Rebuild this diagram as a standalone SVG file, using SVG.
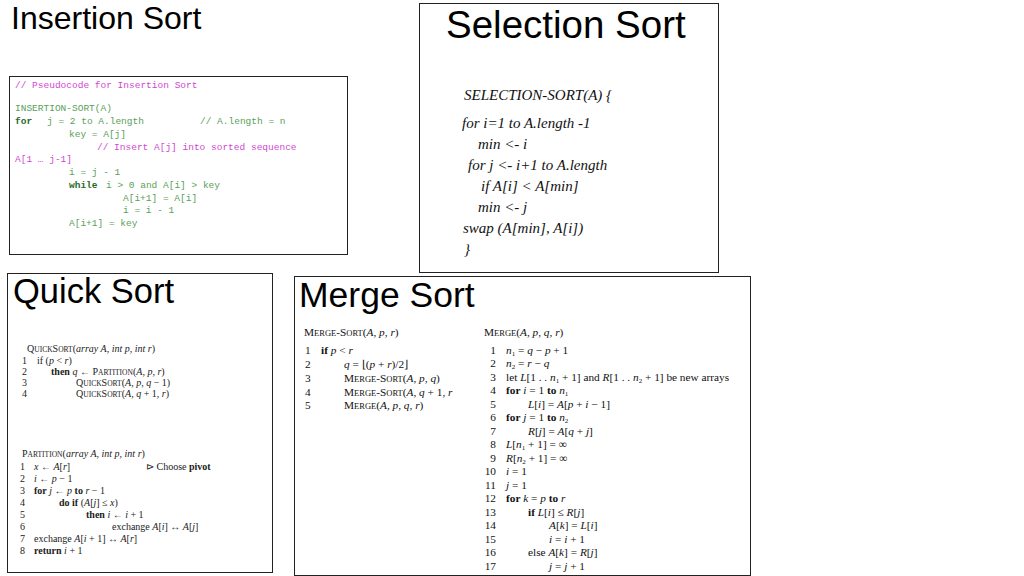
<svg xmlns="http://www.w3.org/2000/svg" width="1024" height="576" viewBox="0 0 1024 576" xml:space="preserve">
<style>
.box{fill:#fff;stroke:#222;stroke-width:1}
.title{font-family:"Liberation Sans",Arial,sans-serif;fill:#000}
.mono{font-family:"Liberation Mono","DejaVu Sans Mono",monospace;font-size:9.5px;white-space:pre}
.cm{fill:#d048d0}.cd{fill:#5aa05a}.kw{fill:#2a6a2a;font-weight:bold}
.sel{font-family:"Liberation Serif",serif;font-style:italic;font-size:15px;fill:#111}
.q{font-family:"Liberation Serif",serif;font-size:10px;fill:#222}
.m{font-family:"Liberation Serif",serif;font-size:11.3px;fill:#111}
.n{text-anchor:end}
.it{font-style:italic}
</style>
<rect width="1024" height="576" fill="#fff"/>
<g id="insertion">
<text class="title" x="11" y="29" font-size="32">Insertion Sort</text>
<rect class="box" x="9.5" y="76.5" width="338" height="178"/>
<g class="mono">
<text x="15" y="88" class="cm">//  Pseudocode for Insertion Sort</text>
<text x="15" y="111" class="cd">INSERTION-SORT(A)</text>
<text x="15" y="124"><tspan class="kw">for</tspan><tspan class="cd" x="47">j = 2  to  A.length</tspan><tspan class="cd" x="200">// A.length = n</tspan></text>
<text x="69" y="137" class="cd">key = A[j]</text>
<text x="97" y="150" class="cm">// Insert A[j] into sorted sequence</text>
<text x="15" y="162" class="cm">A[1 … j-1]</text>
<text x="69" y="175" class="cd">i = j - 1</text>
<text x="69" y="188"><tspan class="kw">while</tspan><tspan class="cd" x="106">i &gt; 0  and  A[i] &gt; key</tspan></text>
<text x="123" y="201" class="cd">A[i+1] = A[i]</text>
<text x="123" y="213" class="cd">i = i - 1</text>
<text x="69" y="226" class="cd">A[i+1] = key</text>
</g>
</g>
<g id="selection">
<rect class="box" x="419.5" y="3.5" width="299" height="269"/>
<text class="title" x="446" y="38" font-size="38.5">Selection Sort</text>
<text class="sel" x="464" y="100">SELECTION-SORT(A) {</text>
<text class="sel" x="462" y="128">for i=1 to A.length -1</text>
<text class="sel" x="478" y="149">min &lt;- i</text>
<text class="sel" x="468" y="170">for j &lt;- i+1 to A.length</text>
<text class="sel" x="481" y="191">if A[i] &lt; A[min]</text>
<text class="sel" x="478" y="212">min &lt;- j</text>
<text class="sel" x="463" y="233">swap (A[min], A[i])</text>
<text class="sel" x="464" y="254">}</text>
</g>
<g id="quick">
<rect class="box" x="7.5" y="273.5" width="265" height="299"/>
<text class="title" x="13" y="303" font-size="34.5">Quick Sort</text>
<g class="q">
<text x="27" y="352">Q<tspan font-size="7.5">UICK</tspan>S<tspan font-size="7.5">ORT</tspan>(<tspan class="it">array A, int p, int r</tspan>)</text>
<text x="22" y="364">1</text><text x="37" y="364">if (<tspan class="it">p</tspan> &lt; <tspan class="it">r</tspan>)</text>
<text x="22" y="375">2</text><text x="51" y="375"><tspan font-weight="bold">then</tspan> <tspan class="it">q</tspan> ← P<tspan font-size="7.5">ARTITION</tspan>(<tspan class="it">A, p, r</tspan>)</text>
<text x="22" y="386">3</text><text x="76" y="386">Q<tspan font-size="7.5">UICK</tspan>S<tspan font-size="7.5">ORT</tspan>(<tspan class="it">A, p, q</tspan> − 1)</text>
<text x="22" y="397">4</text><text x="76" y="397">Q<tspan font-size="7.5">UICK</tspan>S<tspan font-size="7.5">ORT</tspan>(<tspan class="it">A, q</tspan> + 1, <tspan class="it">r</tspan>)</text>
<text x="22" y="457">P<tspan font-size="7.5">ARTITION</tspan>(<tspan class="it">array A, int p, int r</tspan>)</text>
<text x="20" y="470">1</text><text x="34" y="470"><tspan class="it">x</tspan> ← <tspan class="it">A</tspan>[<tspan class="it">r</tspan>]</text><text x="146" y="470">⊳ Choose <tspan font-weight="bold">pivot</tspan></text>
<text x="20" y="482">2</text><text x="34" y="482"><tspan class="it">i</tspan> ← <tspan class="it">p</tspan> − 1</text>
<text x="20" y="494">3</text><text x="34" y="494"><tspan font-weight="bold">for</tspan> <tspan class="it">j</tspan> ← <tspan class="it">p</tspan> <tspan font-weight="bold">to</tspan> <tspan class="it">r</tspan> − 1</text>
<text x="20" y="506">4</text><text x="59" y="506"><tspan font-weight="bold">do if</tspan> (<tspan class="it">A</tspan>[<tspan class="it">j</tspan>] ≤ <tspan class="it">x</tspan>)</text>
<text x="20" y="518">5</text><text x="86" y="518"><tspan font-weight="bold">then</tspan> <tspan class="it">i</tspan> ← <tspan class="it">i</tspan> + 1</text>
<text x="20" y="530">6</text><text x="112" y="530">exchange <tspan class="it">A</tspan>[<tspan class="it">i</tspan>] ↔ <tspan class="it">A</tspan>[<tspan class="it">j</tspan>]</text>
<text x="20" y="542">7</text><text x="34" y="542">exchange <tspan class="it">A</tspan>[<tspan class="it">i</tspan> + 1] ↔ <tspan class="it">A</tspan>[<tspan class="it">r</tspan>]</text>
<text x="20" y="554">8</text><text x="34" y="554"><tspan font-weight="bold">return</tspan> <tspan class="it">i</tspan> + 1</text>
</g>
</g>
<g id="merge">
<rect class="box" x="294.5" y="276.5" width="456" height="299"/>
<text class="title" x="299" y="307" font-size="35.5">Merge Sort</text>
<g class="m">
<text x="304" y="336">M<tspan font-size="8.5">ERGE</tspan>-S<tspan font-size="8.5">ORT</tspan>(<tspan class="it">A, p, r</tspan>)</text>
<text x="305" y="354">1</text><text x="321" y="354"><tspan font-weight="bold">if</tspan> <tspan class="it">p</tspan> &lt; <tspan class="it">r</tspan></text>
<text x="305" y="368">2</text><text x="344" y="368"><tspan class="it">q</tspan> = ⌊(<tspan class="it">p</tspan> + <tspan class="it">r</tspan>)/2⌋</text>
<text x="305" y="382">3</text><text x="344" y="382">M<tspan font-size="8.5">ERGE</tspan>-S<tspan font-size="8.5">ORT</tspan>(<tspan class="it">A, p, q</tspan>)</text>
<text x="305" y="396">4</text><text x="344" y="396">M<tspan font-size="8.5">ERGE</tspan>-S<tspan font-size="8.5">ORT</tspan>(<tspan class="it">A, q</tspan> + 1, <tspan class="it">r</tspan></text>
<text x="305" y="409">5</text><text x="344" y="409">M<tspan font-size="8.5">ERGE</tspan>(<tspan class="it">A, p, q, r</tspan>)</text>
<text x="484" y="336">M<tspan font-size="8.5">ERGE</tspan>(<tspan class="it">A, p, q, r</tspan>)</text>
<g class="n">
<text x="496" y="354">1</text><text x="496" y="367">2</text><text x="496" y="381">3</text><text x="496" y="394">4</text><text x="496" y="408">5</text><text x="496" y="421">6</text><text x="496" y="435">7</text><text x="496" y="448">8</text><text x="496" y="462">9</text><text x="496" y="475">10</text><text x="496" y="489">11</text><text x="496" y="502">12</text><text x="496" y="516">13</text><text x="496" y="529">14</text><text x="496" y="543">15</text><text x="496" y="556">16</text><text x="496" y="570">17</text>
</g>
<text x="506" y="354"><tspan class="it">n</tspan><tspan font-size="7" dy="2">1</tspan><tspan dy="-2"> = </tspan><tspan class="it">q</tspan> − <tspan class="it">p</tspan> + 1</text>
<text x="506" y="367"><tspan class="it">n</tspan><tspan font-size="7" dy="2">2</tspan><tspan dy="-2"> = </tspan><tspan class="it">r</tspan> − <tspan class="it">q</tspan></text>
<text x="506" y="381">let <tspan class="it">L</tspan>[1 . . <tspan class="it">n</tspan><tspan font-size="7" dy="2">1</tspan><tspan dy="-2"> + 1] and </tspan><tspan class="it">R</tspan>[1 . . <tspan class="it">n</tspan><tspan font-size="7" dy="2">2</tspan><tspan dy="-2"> + 1] be new arrays</tspan></text>
<text x="506" y="394"><tspan font-weight="bold">for</tspan> <tspan class="it">i</tspan> = 1 <tspan font-weight="bold">to</tspan> <tspan class="it">n</tspan><tspan font-size="7" dy="2">1</tspan></text>
<text x="528" y="408"><tspan class="it">L</tspan>[<tspan class="it">i</tspan>] = <tspan class="it">A</tspan>[<tspan class="it">p</tspan> + <tspan class="it">i</tspan> − 1]</text>
<text x="506" y="421"><tspan font-weight="bold">for</tspan> <tspan class="it">j</tspan> = 1 <tspan font-weight="bold">to</tspan> <tspan class="it">n</tspan><tspan font-size="7" dy="2">2</tspan></text>
<text x="528" y="435"><tspan class="it">R</tspan>[<tspan class="it">j</tspan>] = <tspan class="it">A</tspan>[<tspan class="it">q</tspan> + <tspan class="it">j</tspan>]</text>
<text x="506" y="448"><tspan class="it">L</tspan>[<tspan class="it">n</tspan><tspan font-size="7" dy="2">1</tspan><tspan dy="-2"> + 1] = ∞</tspan></text>
<text x="506" y="462"><tspan class="it">R</tspan>[<tspan class="it">n</tspan><tspan font-size="7" dy="2">2</tspan><tspan dy="-2"> + 1] = ∞</tspan></text>
<text x="506" y="475"><tspan class="it">i</tspan> = 1</text>
<text x="506" y="489"><tspan class="it">j</tspan> = 1</text>
<text x="506" y="502"><tspan font-weight="bold">for</tspan> <tspan class="it">k</tspan> = <tspan class="it">p</tspan> <tspan font-weight="bold">to</tspan> <tspan class="it">r</tspan></text>
<text x="528" y="516"><tspan font-weight="bold">if</tspan> <tspan class="it">L</tspan>[<tspan class="it">i</tspan>] ≤ <tspan class="it">R</tspan>[<tspan class="it">j</tspan>]</text>
<text x="549" y="529"><tspan class="it">A</tspan>[<tspan class="it">k</tspan>] = <tspan class="it">L</tspan>[<tspan class="it">i</tspan>]</text>
<text x="549" y="543"><tspan class="it">i</tspan> = <tspan class="it">i</tspan> + 1</text>
<text x="528" y="556">else <tspan class="it">A</tspan>[<tspan class="it">k</tspan>] = <tspan class="it">R</tspan>[<tspan class="it">j</tspan>]</text>
<text x="549" y="570"><tspan class="it">j</tspan> = <tspan class="it">j</tspan> + 1</text>
</g>
</g>
</svg>
